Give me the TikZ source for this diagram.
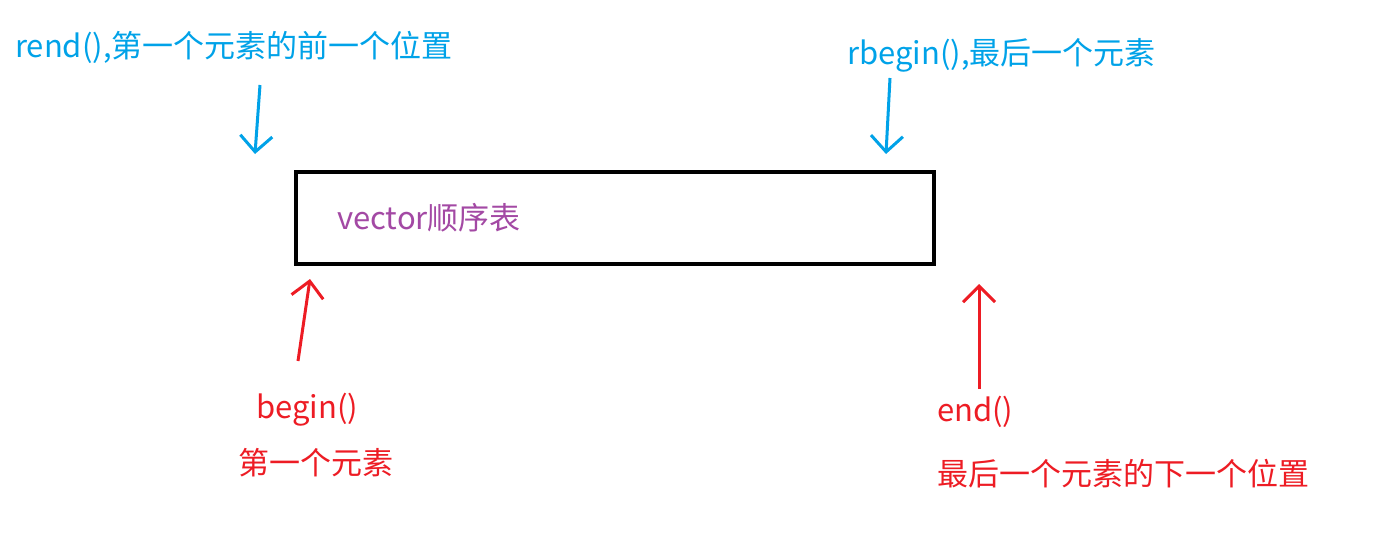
\documentclass[tikz,border=0pt]{standalone}
\usepackage{fontspec}
\setmainfont{Noto Sans CJK SC}
\usetikzlibrary{arrows.meta}
\definecolor{pblue}{HTML}{00A2E8}
\definecolor{pred}{HTML}{ED1C24}
\definecolor{ppurple}{HTML}{A349A4}
\begin{document}
\begin{tikzpicture}[x=1pt,y=-1pt,
  lbl/.style={inner sep=0pt,font=\fontsize{31}{34}\selectfont},
  arr/.style={line width=3pt,-{Straight Barb[length=16pt,width=32pt,line width=3pt]}}]
\useasboundingbox (0,0) rectangle (1386,533);
\node[lbl,pblue,anchor=west] (rend) at (15,47) {rend(),第一个元素的前一个位置};
\node[lbl,pblue,anchor=west] (rbegin) at (847,55) {rbegin(),最后一个元素};
\coordinate (a1s) at (260,85); \coordinate (a1e) at (255,154);
\coordinate (a2s) at (890,78); \coordinate (a2e) at (886,154);
\draw[arr,pblue] (a1s) -- (a1e);
\draw[arr,pblue] (a2s) -- (a2e);
\node[draw=black,line width=4pt,minimum width=638pt,minimum height=92pt,anchor=north west,inner sep=0pt] (box) at (294,170) {};
\node[lbl,ppurple,anchor=west] (vec) at (337,218) {vector顺序表};
\coordinate (a3s) at (298,361); \coordinate (a3e) at (310,279);
\coordinate (a4s) at (979,389); \coordinate (a4e) at (979,284);
\draw[arr,pred] (a3s) -- (a3e);
\draw[arr,pred] (a4s) -- (a4e);
\node[lbl,pred] (begin) at (307,410) {begin()};
\node[lbl,pred] (first) at (316,463) {第一个元素};
\node[lbl,pred,anchor=west] (end) at (937,412) {end()};
\node[lbl,pred,anchor=west] (last) at (937,474) {最后一个元素的下一个位置};
\end{tikzpicture}
\end{document}
